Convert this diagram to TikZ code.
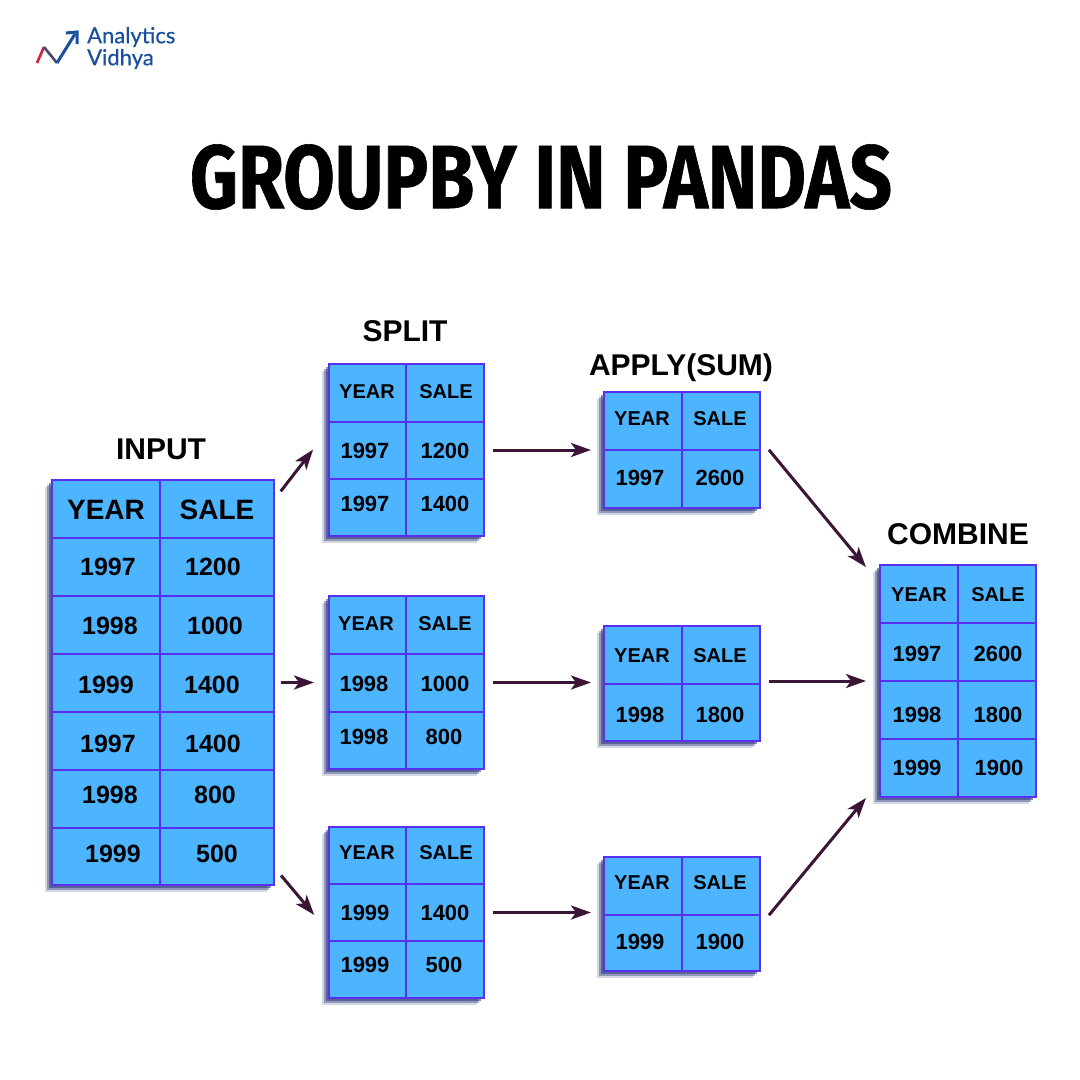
\documentclass[tikz,border=0pt]{standalone}
\usepackage{fontspec}
\setmainfont{Liberation Sans}
\newfontfamily\titlefont[FakeStretch=0.83,BoldFeatures={FakeBold=0.7}]{Fira Sans}
\newfontfamily\logofont[FakeBold=0.5]{Lato}
\usetikzlibrary{positioning,calc,shadows,arrows.meta}

\definecolor{cellblue}{HTML}{4DB5FF}
\definecolor{gridblue}{HTML}{5A30F0}
\definecolor{shadeblue}{HTML}{2A3A78}
\definecolor{flowdark}{HTML}{3A1535}
\definecolor{logoblue}{HTML}{1A4F9C}
\definecolor{logored}{HTML}{D0213F}
\definecolor{logogray}{HTML}{4A4A6A}

\tikzset{
    tablebox/.style={draw=gridblue, line width=2.7pt, fill=cellblue, inner sep=0pt, outer sep=0pt,
        general shadow={shadow xshift=-3pt, shadow yshift=-2.5pt, fill=shadeblue, fill opacity=.55},
        general shadow={shadow xshift=-5pt, shadow yshift=-4.5pt, fill=shadeblue, fill opacity=.4},
        general shadow={shadow xshift=-7pt, shadow yshift=-6.5pt, fill=shadeblue, fill opacity=.2}},
    gridline/.style={draw=gridblue, line width=2.7pt},
    bigcell/.style={font=\fontsize{25}{25}\selectfont\bfseries, inner sep=0pt, yshift=-1pt},
    bighead/.style={font=\fontsize{28}{28}\selectfont\bfseries, inner sep=0pt, yshift=-1pt},
    smallcell/.style={font=\fontsize{22}{22}\selectfont\bfseries, inner sep=0pt, yshift=-1pt},
    smallhead/.style={font=\fontsize{20}{20}\selectfont\bfseries, inner sep=0pt, yshift=-1pt},
    steplabel/.style={font=\fontsize{30}{30}\selectfont\bfseries, inner sep=0pt},
    flow/.style={draw=flowdark, line width=3pt, -{Stealth[length=20pt,width=14pt,inset=5pt]}},
    logotext/.style={font=\fontsize{22}{22}\logofont, text=logoblue, inner sep=0pt, anchor=west},
}

\begin{document}
\begin{tikzpicture}[x=1pt,y=-1pt]
    \useasboundingbox (0,0) rectangle (1080,1080);
    \fill [white] (0,0) rectangle (1080,1080);

    % logo
    \draw [logored, line width=2.6pt] (37,63) -- (44,47);
    \draw [logogray, line width=2.6pt] (44,47) -- (57,63);
    \draw [logoblue, line width=3pt] (57,63) -- (75,34);
    \draw [logoblue, line width=3pt] (66,33) -- (77,32) -- (77,44);
    \node [logotext] (logoa) at (87,37) {Analytics};
    \node [logotext] (logob) at (87,59) {Vidhya};

    \node [inner sep=0pt, font=\fontsize{90}{90}\titlefont\bfseries] (title) at (541,177) {GROUPBY IN PANDAS};

    % tables
    \foreach \tname/\xa/\xb/\xc/\ya/\yb/\rows in {
        input/52/160/274/480/885/{538,596,654,712,770,828},
        split1/329/406/484/364/536/{422,479},
        split2/329/406/484/596/769/{654,712},
        split3/329/406/484/827/998/{884,941},
        apply1/604/682/760/392/508/{450},
        apply2/604/682/760/626/741/{684},
        apply3/604/682/760/857/971/{915},
        combine/880/958/1036/565/797/{623,681,739}} {
        \node [tablebox, minimum width={(\xc-\xa)*1pt}, minimum height={(\yb-\ya)*1pt}]
            (\tname) at ({(\xa+\xc)/2},{(\ya+\yb)/2}) {};
        \draw [gridline] (\xb,\ya) -- (\xb,\yb);
        \foreach \y in \rows {
            \draw [gridline] (\xa,\y) -- (\xc,\y);
        }
    }

    % step labels
    \node [steplabel] (inputlabel) at (161,449) {INPUT};
    \node [steplabel] (splitlabel) at (405,331) {SPLIT};
    \node [steplabel] (applylabel) at (681,368) {APPLY(SUM)};
    \node [steplabel] (combinelabel) at (958,534) {COMBINE};

    % input table
    \node [bighead] (inh1) at (106,509) {YEAR};
    \node [bighead] (inh2) at (217,509) {SALE};
    \foreach \x/\y/\val [count=\i] in {
        108/566/1997, 213/566/1200, 110/625/1998, 215/625/1000,
        106/684/1999, 212/684/1400, 108/743/1997, 213/743/1400,
        110/794/1998, 215/794/800, 113/853/1999, 217/853/500} {
        \node [bigcell] (in\i) at (\x,\y) {\val};
    }

    % small tables
    \foreach \x/\y/\val [count=\i] in {
        367/391/YEAR, 446/391/SALE,
        366/623/YEAR, 445/623/SALE,
        367/852/YEAR, 446/852/SALE,
        642/418/YEAR, 720/418/SALE,
        642/655/YEAR, 720/655/SALE,
        642/882/YEAR, 720/882/SALE,
        919/594/YEAR, 998/594/SALE} {
        \node [smallhead] (head\i) at (\x,\y) {\val};
    }
    \foreach \x/\y/\val [count=\i] in {
        365/450/1997, 445/450/1200, 365/503/1997, 445/503/1400,
        364/683/1998, 445/683/1000, 364/736/1998, 444/736/800,
        365/912/1999, 445/912/1400, 365/964/1999, 444/964/500,
        640/477/1997, 720/477/2600,
        640/714/1998, 720/714/1800,
        640/941/1999, 720/941/1900,
        917/653/1997, 998/653/2600,
        917/714/1998, 998/714/1800, 917/767/1999, 999/767/1900} {
        \node [smallcell] (cell\i) at (\x,\y) {\val};
    }

    % arrows
    \draw [flow, shorten <=11pt, shorten >=26pt] ([yshift=-20pt]input.north east) -- ([yshift=21pt]split1.west);
    \draw [flow, shorten <=7pt, shorten >=15pt] (input.east) -- (input.east -| split2.west);
    \draw [flow, shorten <=11pt, shorten >=23pt] ([yshift=18pt]input.south east) -- ([yshift=-20pt]split3.west);
    \draw [flow, shorten <=9pt, shorten >=13pt] (split1.east) -- (split1.east -| apply1.west);
    \draw [flow, shorten <=9pt, shorten >=13pt] (split2.east) -- (split2.east -| apply2.west);
    \draw [flow, shorten <=9pt, shorten >=13pt] (split3.east) -- (split3.east -| apply3.west);
    \draw [flow, shorten <=14pt, shorten >=22pt] ([yshift=11pt]apply1.east) -- ([yshift=-19pt]combine.north west);
    \draw [flow, shorten <=9pt, shorten >=14pt] (combine.west -| apply2.east) -- (combine.west);
    \draw [flow, shorten <=14pt, shorten >=22pt] ([yshift=-12pt]apply3.east) -- ([yshift=16pt]combine.south west);
\end{tikzpicture}
\end{document}
